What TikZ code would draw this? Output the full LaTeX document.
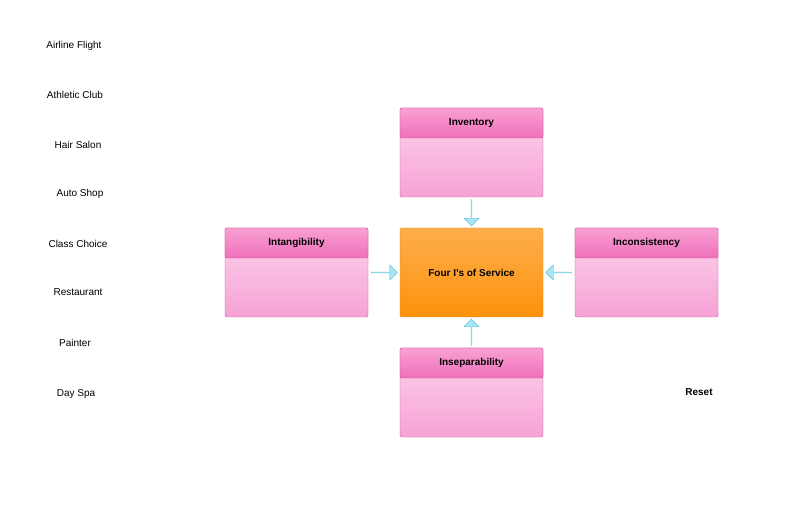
\documentclass[tikz,border=0pt]{standalone}
\usepackage{fontspec}
\setmainfont{Liberation Sans}
\usetikzlibrary{shapes.arrows}
\definecolor{pinkhA}{HTML}{F8A0D4}
\definecolor{pinkhB}{HTML}{EE70B9}
\definecolor{pinkbA}{HTML}{FCD4EC}
\definecolor{pinkbB}{HTML}{F6A2D6}
\definecolor{pinkline}{HTML}{D0509A}
\definecolor{orA}{HTML}{FDAE4C}
\definecolor{orB}{HTML}{FD920C}
\definecolor{orline}{HTML}{E08418}
\definecolor{arrF}{HTML}{A8E6F6}
\definecolor{arrD}{HTML}{5CBEDC}
\tikzset{
 lbl/.style={font=\fontsize{10}{12}\selectfont,anchor=center},
 box/.style={draw=pinkline,rounded corners=2pt,minimum width=143pt,minimum height=89pt,inner sep=0pt,top color=pinkbA,bottom color=pinkbB},
 ctr/.style={draw=orline,rounded corners=2pt,minimum width=143pt,minimum height=89pt,inner sep=0pt,top color=orA,bottom color=orB,font=\bfseries\fontsize{10}{12}\selectfont},
 hdr/.style={draw=pinkline,rounded corners=2pt,minimum width=143pt,minimum height=30pt,inner sep=0pt,top color=pinkhA,bottom color=pinkhB,font=\bfseries\fontsize{10}{12}\selectfont},
 arr/.style={single arrow,draw=arrD,fill=arrF,minimum width=15pt,single arrow head extend=3pt,minimum height=26pt,inner sep=0pt,sloped,allow upside down}
}
\begin{document}
\begin{tikzpicture}[x=1pt,y=-1pt]
\useasboundingbox (0,0) rectangle (796,513);
\node[lbl] (t1) at (74,46) {Airline Flight};
\node[lbl] (t2) at (75,95) {Athletic Club};
\node[lbl] (t3) at (78,145) {Hair Salon};
\node[lbl] (t4) at (80,194) {Auto Shop};
\node[lbl] (t5) at (78,244) {Class Choice};
\node[lbl] (t6) at (78,292) {Restaurant};
\node[lbl] (t7) at (75,343) {Painter};
\node[lbl] (t8) at (76,394) {Day Spa};
\node[font=\bfseries\fontsize{10}{12}\selectfont] (reset) at (699,392) {Reset};

\node[box] (inv) at (471.5,152.5) {};
\node[hdr,anchor=north] (invh) at (inv.north) {Inventory};
\node[box] (int) at (296.5,272.5) {};
\node[hdr,anchor=north] (inth) at (int.north) {Intangibility};
\node[box] (inc) at (646.5,272.5) {};
\node[hdr,anchor=north] (inch) at (inc.north) {Inconsistency};
\node[box] (ins) at (471.5,392.5) {};
\node[hdr,anchor=north] (insh) at (ins.north) {Inseparability};
\node[ctr] (c) at (471.5,272.5) {Four I's of Service};

\path (inv.south) -- (c.north) node[midway,arr] (a1) {};
\path (int.east) -- (c.west) node[midway,arr] (a2) {};
\path (inc.west) -- (c.east) node[midway,arr] (a3) {};
\path (ins.north) -- (c.south) node[midway,arr] (a4) {};
\end{tikzpicture}
\end{document}
